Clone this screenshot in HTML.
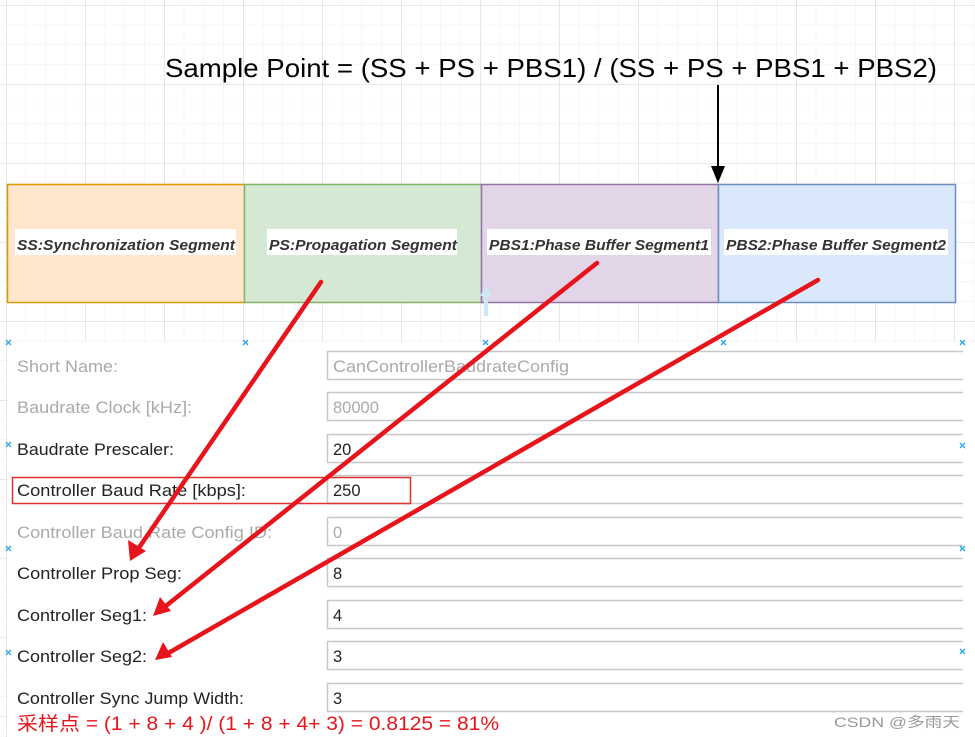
<!DOCTYPE html>
<html><head><meta charset="utf-8"><style>
html,body{margin:0;padding:0;background:#fff}
svg{display:block}
</style></head><body>
<svg width="975" height="737" viewBox="0 0 975 737" xmlns="http://www.w3.org/2000/svg" font-family="Liberation Sans, Noto Sans CJK SC, sans-serif">
<defs>
<pattern id="minor" x="6" y="5" width="19.75" height="19.75" patternUnits="userSpaceOnUse">
<path d="M0 0H19.75M0 0V19.75" stroke="#eeeeee" stroke-width="1" fill="none"/>
</pattern>
<pattern id="major" x="6" y="5" width="79" height="79" patternUnits="userSpaceOnUse">
<path d="M0 0H79M0 0V79" stroke="#dadada" stroke-width="1.3" fill="none"/>
</pattern>
</defs>
<rect width="975" height="737" fill="#fff"/>
<rect width="975" height="737" fill="url(#minor)"/>
<rect width="975" height="737" fill="url(#major)"/>

<text x="165" y="77" font-size="26" fill="#000" textLength="772" lengthAdjust="spacingAndGlyphs">Sample Point = (SS + PS + PBS1) / (SS + PS + PBS1 + PBS2)</text>
<line x1="718" y1="85" x2="718" y2="168" stroke="#000" stroke-width="2"/>
<path d="M711 166L725 166L718 183z" fill="#000"/>

<rect x="7.5" y="184.5" width="237" height="118" fill="#ffe6cc" stroke="#d79b00" stroke-width="1.5"/>
<rect x="244.5" y="184.5" width="237" height="118" fill="#d5e8d4" stroke="#82b366" stroke-width="1.5"/>
<rect x="481.5" y="184.5" width="237" height="118" fill="#e1d5e7" stroke="#9673a6" stroke-width="1.5"/>
<rect x="718.5" y="184.5" width="237" height="118" fill="#dae8fc" stroke="#6c8ebf" stroke-width="1.5"/>
<g font-size="14.5" font-weight="bold" font-style="italic" fill="#333">
<rect x="15" y="229" width="221" height="26" fill="#fff"/>
<text x="17" y="250" textLength="218" lengthAdjust="spacingAndGlyphs">SS:Synchronization Segment</text>
<rect x="267" y="229" width="190" height="26" fill="#fff"/>
<text x="269" y="250" textLength="188" lengthAdjust="spacingAndGlyphs">PS:Propagation Segment</text>
<rect x="487" y="229" width="224" height="26" fill="#fff"/>
<text x="489" y="250" textLength="220" lengthAdjust="spacingAndGlyphs">PBS1:Phase Buffer Segment1</text>
<rect x="724" y="229" width="224" height="26" fill="#fff"/>
<text x="726" y="250" textLength="220" lengthAdjust="spacingAndGlyphs">PBS2:Phase Buffer Segment2</text>
</g>
<path d="M486 286L480 296L484 296L484 316L488 316L488 296L492 296z" fill="#cfe6f7"/>

<rect x="7" y="342" width="956" height="395" fill="#fff"/>
<g fill="none" stroke="#c8c8cc" stroke-width="1.5">
<rect x="327.5" y="351.5" width="640" height="28"/>
<rect x="327.5" y="392.5" width="640" height="28"/>
<rect x="327.5" y="434.5" width="640" height="28"/>
<rect x="327.5" y="475.5" width="640" height="28"/>
<rect x="327.5" y="517.5" width="640" height="28"/>
<rect x="327.5" y="558.5" width="640" height="28"/>
<rect x="327.5" y="600.5" width="640" height="28"/>
<rect x="327.5" y="641.5" width="640" height="28"/>
<rect x="327.5" y="683.5" width="640" height="28"/>
</g>
<rect x="963" y="342" width="12" height="395" fill="#fff"/>
<g font-size="16.5">
<g fill="#aaa">
<text x="17" y="372" textLength="101" lengthAdjust="spacingAndGlyphs">Short Name:</text>
<text x="17" y="413" textLength="175" lengthAdjust="spacingAndGlyphs">Baudrate Clock [kHz]:</text>
<text x="17" y="538" textLength="255" lengthAdjust="spacingAndGlyphs">Controller Baud Rate Config ID:</text>
<text x="333" y="372" textLength="236" lengthAdjust="spacingAndGlyphs">CanControllerBaudrateConfig</text>
<text x="333" y="413">80000</text>
<text x="333" y="538">0</text>
</g>
<g fill="#222">
<text x="17" y="455" textLength="157" lengthAdjust="spacingAndGlyphs">Baudrate Prescaler:</text>
<text x="17" y="496" textLength="229" lengthAdjust="spacingAndGlyphs">Controller Baud Rate [kbps]:</text>
<text x="17" y="579" textLength="165" lengthAdjust="spacingAndGlyphs">Controller Prop Seg:</text>
<text x="17" y="621" textLength="130" lengthAdjust="spacingAndGlyphs">Controller Seg1:</text>
<text x="17" y="662" textLength="130" lengthAdjust="spacingAndGlyphs">Controller Seg2:</text>
<text x="17" y="704" textLength="227" lengthAdjust="spacingAndGlyphs">Controller Sync Jump Width:</text>
<text x="333" y="455">20</text>
<text x="333" y="496">250</text>
<text x="333" y="579">8</text>
<text x="333" y="621">4</text>
<text x="333" y="662">3</text>
<text x="333" y="704">3</text>
</g>
</g>
<rect x="12.5" y="477.5" width="398" height="26" fill="none" stroke="#e03030" stroke-width="1.5"/>

<g stroke="#e8141c" stroke-width="4.5" stroke-linecap="round" fill="none">
<line x1="321" y1="282" x2="136" y2="552"/>
<line x1="597" y1="263" x2="162" y2="609"/>
<line x1="818" y1="280" x2="165" y2="655"/>
</g>
<g fill="#e8141c">
<path d="M130 561L128 540L146 551z"/>
<path d="M153 616L160 597L171 611z"/>
<path d="M155 660L163 642L172 657z"/>
</g>

<g stroke="#29a9e8" stroke-width="1.3">
<path d="M6 340l5 5M11 340l-5 5"/><path d="M243 340l5 5M248 340l-5 5"/><path d="M483 340l5 5M488 340l-5 5"/><path d="M721 340l5 5M726 340l-5 5"/><path d="M960 340l5 5M965 340l-5 5"/>
<path d="M6 442l5 5M11 442l-5 5"/><path d="M960 443l5 5M965 443l-5 5"/>
<path d="M6 546l5 5M11 546l-5 5"/><path d="M960 546l5 5M965 546l-5 5"/>
<path d="M6 650l5 5M11 650l-5 5"/><path d="M960 649l5 5M965 649l-5 5"/>
</g>

<text x="17" y="730" font-size="19" fill="#e8141c" textLength="482" lengthAdjust="spacingAndGlyphs">采样点 = (1 + 8 + 4 )/ (1 + 8 + 4+ 3) = 0.8125  = 81%</text>
<text x="834" y="727" font-size="14" fill="#999" textLength="126" lengthAdjust="spacingAndGlyphs">CSDN @多雨天</text>
</svg>
</body></html>
